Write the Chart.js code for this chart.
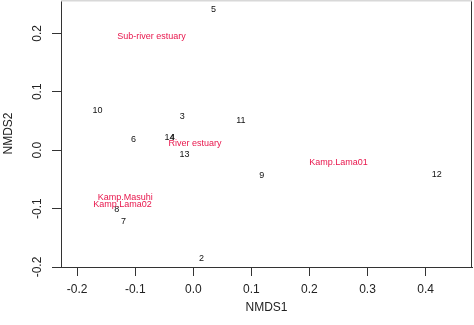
<!DOCTYPE html>
<html>
<head>
<meta charset="utf-8">
<script src="https://cdn.jsdelivr.net/npm/chart.js@4.4.1/dist/chart.umd.min.js"></script>
<style>
  html, body { margin: 0; padding: 0; background: #fff; }
  #wrap { width: 474px; height: 325px; }
</style>
</head>
<body>
<div id="wrap"><canvas id="nmds" width="474" height="325"></canvas></div>
<script>
// site scores (NMDS1, NMDS2)
const siteNames = ['5', '10', '3', '11', '6', '14', '4', '13', '9', '12', '8', '7', '2'];
const siteX = [0.035, -0.165, -0.019, 0.082, -0.103, -0.041, -0.036, -0.015, 0.118, 0.419, -0.132, -0.120, 0.014];
const siteY = [0.240, 0.067, 0.057, 0.050, 0.019, 0.021, 0.021, -0.007, -0.043, -0.041, -0.101, -0.123, -0.185];

// group centroids (red labels)
const groupNames = ['Sub-river estuary', 'River estuary', 'Kamp.Lama01', 'Kamp.Masuhi', 'Kamp.Lama02'];
const groupX = [-0.072, 0.003, 0.250, -0.117, -0.122];
const groupY = [0.194, 0.012, -0.022, -0.081, -0.093];

const xTicks = [-0.2, -0.1, 0.0, 0.1, 0.2, 0.3, 0.4];
const yTicks = [-0.2, -0.1, 0.0, 0.1, 0.2];

const FONT = '"Liberation Sans", Arial, sans-serif';
const AXIS_COL = '#333';

const siteData = siteNames.map((n, i) => ({ x: siteX[i], y: siteY[i] }));
const groupData = groupNames.map((n, i) => ({ x: groupX[i], y: groupY[i] }));

// draws text labels at the data points, the frame and the rotated y labels
const labelPlugin = {
  id: 'nmdsLabels',
  afterDatasetsDraw(chart) {
    const ctx = chart.ctx;
    const xs = chart.scales.x;
    const ys = chart.scales.y;
    const area = chart.chartArea;
    ctx.save();

    // right + top of the box
    ctx.strokeStyle = AXIS_COL;
    ctx.lineWidth = 1;
    ctx.beginPath();
    ctx.moveTo(area.right - 0.5, area.top);
    ctx.lineTo(area.right - 0.5, area.bottom);
    ctx.stroke();
    ctx.strokeStyle = '#d8d8d8';
    ctx.lineWidth = 1.5;
    ctx.beginPath();
    ctx.moveTo(area.left, area.top + 0.75);
    ctx.lineTo(area.right, area.top + 0.75);
    ctx.stroke();

    ctx.textAlign = 'center';
    ctx.textBaseline = 'middle';

    ctx.fillStyle = '#111';
    ctx.font = '9px ' + FONT;
    siteNames.forEach((n, i) => {
      ctx.fillText(n, xs.getPixelForValue(siteX[i]), ys.getPixelForValue(siteY[i]));
    });

    ctx.fillStyle = '#e8164c';
    ctx.font = '9px ' + FONT;
    groupNames.forEach((n, i) => {
      ctx.fillText(n, xs.getPixelForValue(groupX[i]), ys.getPixelForValue(groupY[i]));
    });

    // y tick labels, rotated like base R
    ctx.fillStyle = '#222';
    ctx.font = '12px ' + FONT;
    yTicks.forEach(v => {
      ctx.save();
      ctx.translate(38, ys.getPixelForValue(v));
      ctx.rotate(-Math.PI / 2);
      ctx.fillText(v.toFixed(1), 0, 0);
      ctx.restore();
    });

    // y title
    ctx.save();
    ctx.translate(9, (area.top + area.bottom) / 2);
    ctx.rotate(-Math.PI / 2);
    ctx.fillText('NMDS2', 0, 0);
    ctx.restore();

    ctx.restore();
  }
};

new Chart(document.getElementById('nmds'), {
  type: 'scatter',
  data: {
    datasets: [
      { label: 'sites', data: siteData, pointRadius: 0, pointHoverRadius: 0 },
      { label: 'groups', data: groupData, pointRadius: 0, pointHoverRadius: 0 }
    ]
  },
  options: {
    responsive: false,
    animation: false,
    events: [],
    layout: { padding: { top: 0, right: 2, bottom: 0, left: 0 } },
    plugins: {
      legend: { display: false },
      tooltip: { enabled: false }
    },
    scales: {
      x: {
        type: 'linear',
        min: -0.2278,
        max: 0.4799,
        afterBuildTicks: s => { s.ticks = xTicks.map(v => ({ value: v })); },
        afterFit: s => { s.height = 58; },
        ticks: {
          color: '#222',
          font: { family: FONT, size: 12 },
          padding: 6,
          maxRotation: 0,
          callback: v => v.toFixed(1)
        },
        grid: { drawOnChartArea: false, drawTicks: true, tickLength: 9, color: AXIS_COL },
        border: { display: true, color: AXIS_COL, width: 1 },
        title: {
          display: true,
          text: 'NMDS1',
          color: '#222',
          font: { family: FONT, size: 12 },
          padding: { top: 0, bottom: 10 }
        }
      },
      y: {
        type: 'linear',
        min: -0.2,
        max: 0.257,
        afterBuildTicks: s => { s.ticks = yTicks.map(v => ({ value: v })); },
        afterFit: s => { s.width = 61; },
        ticks: { display: false },
        grid: { drawOnChartArea: false, drawTicks: true, tickLength: 9, color: AXIS_COL },
        border: { display: true, color: AXIS_COL, width: 1 }
      }
    }
  },
  plugins: [labelPlugin]
});
</script>
</body>
</html>
